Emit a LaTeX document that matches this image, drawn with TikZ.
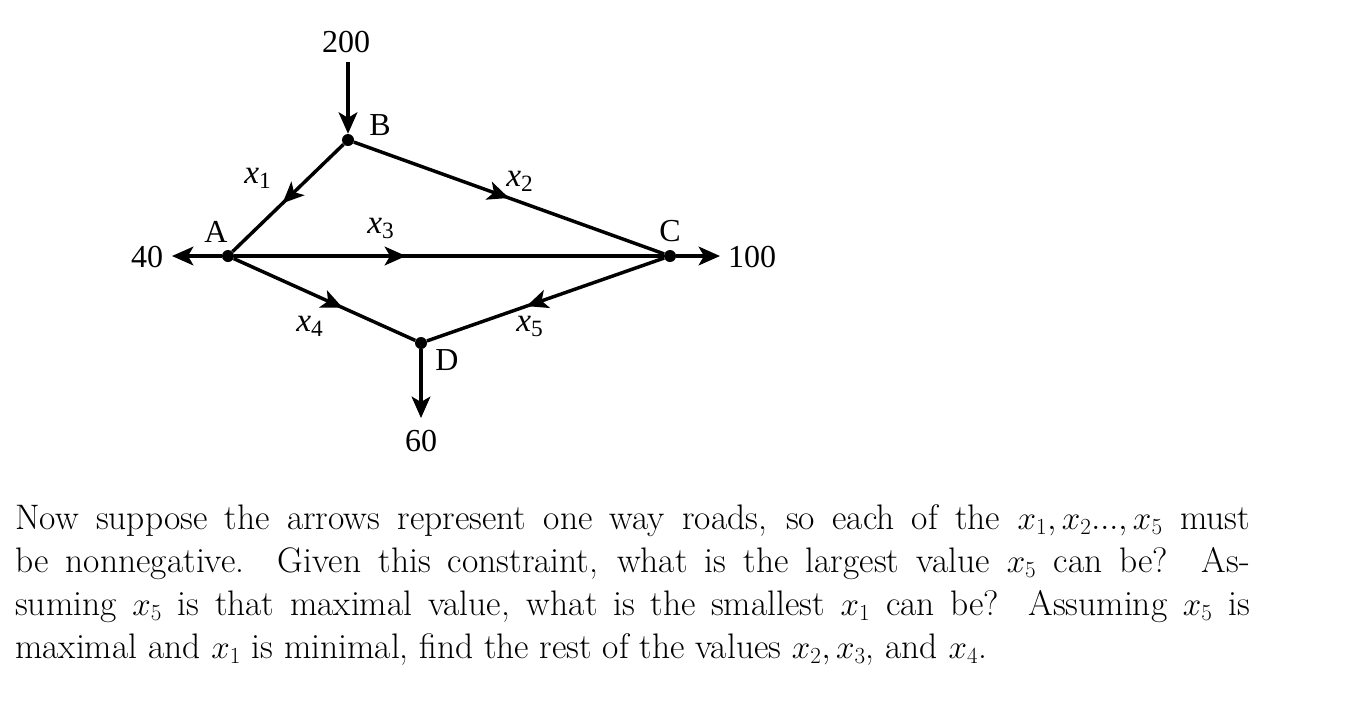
\documentclass[tikz,border=0pt]{standalone}
\usepackage{fontspec}
\setmainfont{Latin Modern Roman}
\newfontfamily\tms{Liberation Serif}
\usetikzlibrary{arrows.meta,decorations.markings}
\begin{document}
\begin{tikzpicture}[x=0.75pt,y=-0.75pt,
  edge/.style={line width=2.6pt},
  flow/.style={edge,postaction={decorate},decoration={markings,mark=at position #1 with {\arrow{Stealth[length=16pt,width=14pt,inset=4pt]}}}},
  outarr/.style={edge,-{Stealth[length=16pt,width=14pt,inset=4pt]}},
  dot/.style={circle,fill=black,inner sep=0pt,minimum size=9pt},
  lab/.style={font=\tms\fontsize{24}{24}\selectfont,inner sep=0pt},
  xlab/.style={font=\tms\itshape\fontsize{25}{25}\selectfont,inner sep=0pt}]
\useasboundingbox (0,0) rectangle (1364,726);
\node[dot] (A) at (228,256) {};
\node[dot] (B) at (348,140) {};
\node[dot] (C) at (670,256) {};
\node[dot] (D) at (421,343) {};
\node[lab] (lA) at (216,232) {A};
\node[lab] (lB) at (380,125) {B};
\node[lab] (lC) at (670,231) {C};
\node[lab] (lD) at (447,360) {D};
\node[lab] (n200) at (346,42) {200};
\node[lab] (n40) at (147,257) {40};
\node[lab] (n100) at (752,257) {100};
\node[lab] (n60) at (421,441) {60};
\coordinate (t200) at (348,62);
\coordinate (e40) at (172,256);
\coordinate (e100) at (720,256);
\coordinate (e60) at (421,418);
\draw[outarr] (t200) -- (B);
\draw[outarr] (A) -- (e40);
\draw[outarr] (C) -- (e100);
\draw[outarr] (D) -- (e60);
\draw[flow=0.55] (B) -- (A);
\draw[flow=0.5] (B) -- (C);
\draw[flow=0.4] (A) -- (C);
\draw[flow=0.6] (A) -- (D);
\draw[flow=0.58] (C) -- (D);
\node[xlab] (x1) at (258,178) {x\textsubscript{\upshape 1}};
\node[xlab] (x2) at (520,181) {x\textsubscript{\upshape 2}};
\node[xlab] (x3) at (381,228) {x\textsubscript{\upshape 3}};
\node[xlab] (x4) at (310,326) {x\textsubscript{\upshape 4}};
\node[xlab] (x5) at (530,326) {x\textsubscript{\upshape 5}};
\node[anchor=north west,inner sep=0pt,text width=926pt,align=justify,font=\fontsize{26.6}{32.3}\selectfont] (txt) at (15,504)
{Now suppose the arrows represent one way roads, so each of the $x_1,x_2...,x_5$ must\linebreak be nonnegative. Given this constraint, what is the largest value $x_5$ can be? As-\linebreak suming $x_5$ is that maximal value, what is the smallest $x_1$ can be? Assuming $x_5$ is\linebreak maximal and $x_1$ is minimal, find the rest of the values $x_2,x_3$, and $x_4$.};
\end{tikzpicture}
\end{document}
